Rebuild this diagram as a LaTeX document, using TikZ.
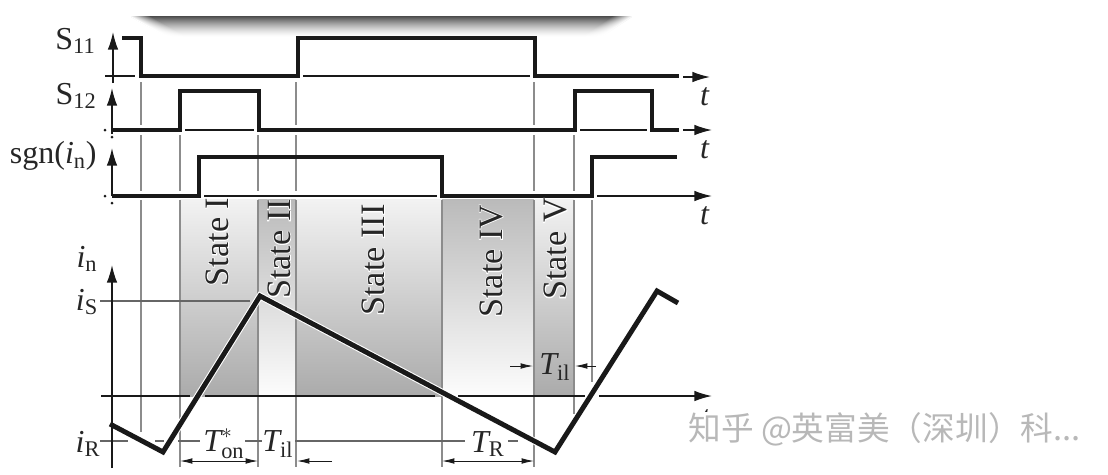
\documentclass[tikz,border=0pt]{standalone}
\usepackage{amsmath}
\usepackage{fontspec}
\setmainfont{Liberation Serif}
\newfontfamily\cjkfont{Noto Sans CJK SC}
\newfontfamily\halofont[FakeBold=4]{Liberation Serif}
\usetikzlibrary{arrows.meta}
\newcommand{\sym}[2]{$\textit{#1}_{\text{#2}}$}
\newcommand{\halotext}[1]{\rlap{\halofont\color{white}#1}#1}
\tikzset{
	wave/.style={line width=2.1pt, color=black!90, line join=miter},
	tri/.style={line width=2.8pt, color=black!90, line join=miter},
	axis/.style={line width=0.9pt, color=black!90},
	guide/.style={line width=0.7pt, color=black!45},
	level/.style={line width=0.6pt, color=black!60},
	tip/.style={-{Latex[length=10pt,width=6pt]}},
	dim/.style={line width=0.5pt, color=black!90},
	dimtip/.style={{Latex[length=7pt,width=3.2pt]}-{Latex[length=7pt,width=3.2pt]}},
	onetip/.style={-{Latex[length=7pt,width=3.2pt]}},
	lab/.style={inner sep=0pt, font=\fontsize{18.2}{20}\selectfont, color=black!85},
	statelab/.style={lab, rotate=90, font=\fontsize{19.5}{21}\selectfont}
}
\begin{document}
\begin{tikzpicture}[x=0.02cm, y=-0.02cm]
	\useasboundingbox (0,0) rectangle (1108,474);
	\foreach \i in {0,...,21} {
		\pgfmathsetmacro{\shadeval}{70*(1-\i/21)^1.5}
		\fill [color=black!\shadeval] (150+1.8*\i,16+\i) rectangle (612-1.5*\i,17+\i);
		\shade [left color=white, right color=black!\shadeval] (130+1.8*\i,16+\i) rectangle (150.2+1.8*\i,17+\i);
		\shade [left color=black!\shadeval, right color=white] (611.8-1.5*\i,16+\i) rectangle (632-1.5*\i,17+\i);
	}
	\shade [top color=black!5, bottom color=black!33] (180,199) rectangle (258,396);
	\shade [top color=black!27, bottom color=black!1] (258,199) rectangle (296,396);
	\shade [top color=black!5, bottom color=black!33] (296,199) rectangle (442,396);
	\shade [top color=black!27, bottom color=black!1] (442,199) rectangle (534,396);
	\shade [top color=black!5, bottom color=black!33] (534,199) rectangle (574,396);
	\foreach \x in {141,296,534}
		\draw [guide] (\x,82) -- (\x,125);
	\foreach \x in {141,180,258,296,534,574}
		\draw [guide] (\x,135) -- (\x,191);
	\draw [guide] (141,200) -- (141,432);
	\foreach \x in {180,258,296,442,534}
		\draw [guide] (\x,200) -- (\x,467);
	\draw [guide] (574,200) -- (574,414);
	\draw [guide] (592,200) -- (592,382);
	\draw [axis] (105,76) -- (135,76);
	\draw [axis] (303,76) -- (530,76);
	\draw [axis, tip] (683,77) -- (710,77);
	\draw [axis] (185,130) -- (254,130);
	\draw [axis] (580,130) -- (647,130);
	\draw [axis, tip] (683,130) -- (712,130);
	\draw [axis] (204,196) -- (437,196);
	\draw [axis, tip] (597,196) -- (712,196);
	\draw [axis, tip] (113,83) -- (113,32);
	\draw [axis, tip] (112,134) -- (112,88);
	\draw [axis, tip] (112,196) -- (112,148);
	\fill [color=black!90] (105,130) circle (1.5) (112,137) circle (1.5) (105,196) circle (1.5) (112,203) circle (1.5);
	\draw [wave] (122,38) -- (141,38) -- (141,76) -- (298,76) -- (298,38) -- (535,38) -- (535,76) -- (679,76);
	\draw [wave] (112,130) -- (180,130) -- (180,91) -- (259,91) -- (259,130) -- (575,130) -- (575,91) -- (652,91) -- (652,130) -- (679,130);
	\draw [wave] (112,196) -- (199,196) -- (199,157) -- (442,157) -- (442,196) -- (592,196) -- (592,157) -- (677,157);
	\draw [level] (100,301) -- (250,301);
	\draw [level] (100,441) -- (128,441);
	\draw [level] (155,441) -- (164,441);
	\draw [level] (178,441) -- (200,441);
	\draw [level] (245,441) -- (262,441);
	\draw [level] (295,441) -- (465,441);
	\draw [level] (508,441) -- (518,441);
	\draw [axis] (101,396) -- (190,396);
	\draw [axis] (205,396) -- (435,396);
	\draw [axis] (458,396) -- (585,396);
	\draw [axis, tip] (599,396) -- (712,396);
	\draw [axis] (112,468) -- (112,418);
	\draw [axis, tip] (112,418) -- (112,265);
	\draw [line width=4pt, color=white] (163,452) -- (260,296) -- (555,452);
	\draw [tri] (110,424) -- (163,452) -- (260,296) -- (555,452) -- (657,291) -- (678,303);
	\draw [dim, dimtip] (180,461) -- (258,461);
	\draw [dim, onetip] (332,461) -- (297,461);
	\draw [dim, dimtip] (442,461) -- (534,461);
	\draw [dim, onetip] (510,366) -- (533,366);
	\draw [dim, onetip] (596,366) -- (575,366);
	\node [lab, anchor=east] (sOne) at (96,41) {S$_{\text{11}}$};
	\node [lab, anchor=east] (sTwo) at (97,96) {S$_{\text{12}}$};
	\node [lab, anchor=east] (sSign) at (97,156) {sgn(\sym{i}{n})};
	\node [lab] (tOne) at (705,97) {\textit{t}};
	\node [lab] (tTwo) at (705,150) {\textit{t}};
	\node [lab] (tThree) at (705,216) {\textit{t}};
	\node [lab] (tFour) at (706,419) {\textit{t}};
	\node [statelab] (stateOne) at (217,242) {\halotext{State I}};
	\node [statelab] (stateTwo) at (279,249) {\halotext{State II}};
	\node [statelab] (stateThree) at (373,260) {\halotext{State III}};
	\node [statelab] (stateFour) at (491,261) {\halotext{State IV}};
	\node [statelab] (stateFive) at (555,249) {\halotext{State V}};
	\node [lab] (curN) at (87,259) {\sym{i}{n}};
	\node [lab] (curS) at (87,302) {\sym{i}{S}};
	\node [lab] (curR) at (88,444) {\sym{i}{R}};
	\node [lab] (tOn) at (224,444) {$\textit{T}^{*}_{\text{on}}$};
	\node [lab] (tIlLow) at (278,444) {\sym{T}{il}};
	\node [lab] (tRec) at (488,444) {\sym{T}{R}};
	\node [lab] (tIlUp) at (555,367) {\sym{T}{il}};
	\node [fill=white, inner sep=0pt, text height=16.5pt, text depth=3pt, anchor=west, text=black!28, font=\cjkfont\fontsize{18.6}{20}\selectfont] (mark) at (688,429) {知乎 @英富美（深圳）科...};
\end{tikzpicture}
\end{document}
